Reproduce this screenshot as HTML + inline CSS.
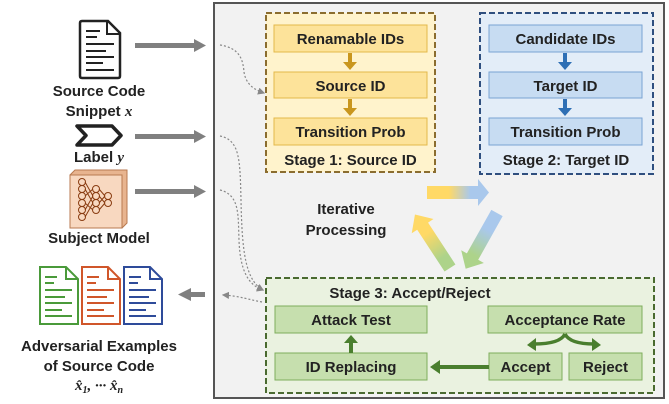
<!DOCTYPE html>
<html><head><meta charset="utf-8"><style>
html,body{margin:0;padding:0;background:#fff;}
svg{display:block;}
text{font-family:"Liberation Sans",sans-serif;font-weight:bold;fill:#222;}
.m{font-family:"Liberation Serif",serif;font-style:italic;}
</style></head><body>
<svg width="669" height="404" viewBox="0 0 669 404" xmlns="http://www.w3.org/2000/svg">
<defs>
<linearGradient id="g1" x1="0" y1="0" x2="1" y2="0"><stop offset="0.35" stop-color="#ffd966"/><stop offset="0.7" stop-color="#a9c8ec"/></linearGradient>
<linearGradient id="g2" x1="0" y1="0" x2="1" y2="0"><stop offset="0.3" stop-color="#a9c8ec"/><stop offset="0.75" stop-color="#add38a"/></linearGradient>
<linearGradient id="g3" x1="0" y1="0" x2="1" y2="0"><stop offset="0.2" stop-color="#add38a"/><stop offset="0.65" stop-color="#ffd966"/></linearGradient>
<marker id="ad" markerWidth="6" markerHeight="6" refX="5" refY="3" orient="auto"><path d="M0,0 L6,3 L0,6z" fill="#888"/></marker>
</defs>
<rect x="214" y="3" width="450" height="395" fill="#f2f2f2" stroke="#555" stroke-width="2"/>

<rect x="266" y="13" width="169" height="159" fill="#fff3cc" stroke="#8b6d2f" stroke-width="2" stroke-dasharray="6,3"/>
<g fill="#fde39a" stroke="#e3b84a" stroke-width="1">
<rect x="274" y="25" width="153" height="27"/><rect x="274" y="72" width="153" height="26"/><rect x="274" y="118" width="153" height="27"/></g>
<g fill="#c9961e"><rect x="348" y="53" width="4" height="10"/><path d="M343,62 L357,62 L350,70z"/><rect x="348" y="99" width="4" height="10"/><path d="M343,108 L357,108 L350,116z"/></g>
<text x="350.5" y="44" font-size="15" text-anchor="middle">Renamable IDs</text>
<text x="350.5" y="91" font-size="15" text-anchor="middle">Source ID</text>
<text x="350.5" y="137" font-size="15" text-anchor="middle">Transition Prob</text>
<text x="350.5" y="165" font-size="15" text-anchor="middle">Stage 1: Source ID</text>

<rect x="480" y="13" width="173" height="161" fill="#e3edf8" stroke="#2f4f7f" stroke-width="2" stroke-dasharray="6,3"/>
<g fill="#c7dcf2" stroke="#7aa4d3" stroke-width="1">
<rect x="489" y="25" width="153" height="27"/><rect x="489" y="72" width="153" height="26"/><rect x="489" y="118" width="153" height="27"/></g>
<g fill="#2e6fb5"><rect x="563" y="53" width="4" height="10"/><path d="M558,62 L572,62 L565,70z"/><rect x="563" y="99" width="4" height="10"/><path d="M558,108 L572,108 L565,116z"/></g>
<text x="565.5" y="44" font-size="15" text-anchor="middle">Candidate IDs</text>
<text x="565.5" y="91" font-size="15" text-anchor="middle">Target ID</text>
<text x="565.5" y="137" font-size="15" text-anchor="middle">Transition Prob</text>
<text x="566" y="165" font-size="15" text-anchor="middle">Stage 2: Target ID</text>

<text x="346" y="214" font-size="15" text-anchor="middle">Iterative</text>
<text x="346" y="235" font-size="15" text-anchor="middle">Processing</text>
<path d="M427,186 L478,186 L478,179 L489,192.5 L478,206 L478,199 L427,199z" fill="url(#g1)"/>
<g transform="translate(497,213) rotate(119.3)"><path d="M0,-6.5 L50,-6.5 L50,-13 L64,0 L50,13 L50,6.5 L0,6.5z" fill="url(#g2)"/></g>
<g transform="translate(450,268) rotate(-123.2)"><path d="M0,-6.5 L50,-6.5 L50,-13 L64,0 L50,13 L50,6.5 L0,6.5z" fill="url(#g3)"/></g>

<rect x="266" y="278" width="388" height="115" fill="#eaf2e0" stroke="#4a6a30" stroke-width="2" stroke-dasharray="6,3"/>
<text x="410" y="298" font-size="15" text-anchor="middle">Stage 3: Accept/Reject</text>
<g fill="#c6dfae" stroke="#7fae5c" stroke-width="1">
<rect x="275" y="306" width="152" height="27"/><rect x="488" y="306" width="154" height="27"/>
<rect x="275" y="353" width="152" height="27"/><rect x="489" y="353" width="73" height="27"/><rect x="569" y="353" width="73" height="27"/></g>
<text x="351" y="325" font-size="15" text-anchor="middle">Attack Test</text>
<text x="565" y="325" font-size="15" text-anchor="middle">Acceptance Rate</text>
<text x="351" y="372" font-size="15" text-anchor="middle">ID Replacing</text>
<text x="525.5" y="372" font-size="15" text-anchor="middle">Accept</text>
<text x="605.5" y="372" font-size="15" text-anchor="middle">Reject</text>
<g fill="#4a7f2e" stroke="none">
<rect x="349" y="342" width="4" height="11"/><path d="M344,343 L358,343 L351,335z"/>
<rect x="438" y="365" width="51" height="4"/><path d="M440,360 L440,374 L430,367z"/>
</g>
<path d="M565,334 Q560,344 534,344 M565,334 Q570,344 594,344" fill="none" stroke="#4a7f2e" stroke-width="3.5"/>
<path d="M536,338 L536,351 L527,345z" fill="#4a7f2e"/>
<path d="M592,338 L592,351 L601,345z" fill="#4a7f2e"/>

<g fill="none" stroke="#888" stroke-width="1.2" stroke-dasharray="2,2" marker-end="url(#ad)">
<path d="M220,45 C240,48 243,60 244,72 C246,85 255,90 264,93"/>
<path d="M220,136 C240,140 240,160 241,200 C242,250 245,280 263,290"/>
<path d="M220,190 C240,195 238,215 239,240 C240,270 248,285 263,290"/>
<path d="M262,302 C250,300 240,296 223,295"/>
</g>

<g fill="#808080">
<rect x="135" y="43" width="60" height="5"/><path d="M194,39 L206,45.5 L194,52z"/>
<rect x="135" y="134" width="60" height="5"/><path d="M194,130 L206,136.5 L194,143z"/>
<rect x="135" y="189" width="60" height="5"/><path d="M194,185 L206,191.5 L194,198z"/>
<rect x="190" y="292" width="15" height="5"/><path d="M191,288 L178,294.5 L191,301z"/>
</g>

<path d="M82,21 L108,21 L120,33 L120,76 Q120,78 118,78 L82,78 Q80,78 80,76 L80,23 Q80,21 82,21z" fill="#fff" stroke="#222" stroke-width="2.5"/>
<path d="M107,21 L107,34 L120,34" fill="none" stroke="#222" stroke-width="2"/>
<g stroke="#222" stroke-width="2"><line x1="86" y1="31" x2="100" y2="31"/><line x1="86" y1="37" x2="97" y2="37"/><line x1="86" y1="44" x2="114" y2="44"/><line x1="86" y1="51" x2="106" y2="51"/><line x1="86" y1="57" x2="114" y2="57"/><line x1="86" y1="63" x2="103" y2="63"/><line x1="86" y1="70" x2="114" y2="70"/></g>
<text x="99" y="96" font-size="15" text-anchor="middle">Source Code</text>
<text x="99" y="116" font-size="15" text-anchor="middle">Snippet <tspan class="m">x</tspan></text>

<path d="M77,126 L112,126 L121,135.5 L112,145 L77,145 L86,135.5z" fill="#fff" stroke="#222" stroke-width="3.5" stroke-linejoin="round"/>
<text x="99" y="162" font-size="15" text-anchor="middle">Label <tspan class="m">y</tspan></text>

<path d="M70,175 L75,170 L127,170 L127,223 L122,228z" fill="#e8b48f" stroke="#b87a50"/>
<rect x="70" y="175" width="52" height="53" fill="#f8d8c0" stroke="#b87a50"/>
<g fill="none" stroke="#8a3d12" stroke-width="1">
<circle cx="82" cy="182" r="3.5"/><circle cx="82" cy="189" r="3.5"/><circle cx="82" cy="196" r="3.5"/><circle cx="82" cy="203" r="3.5"/><circle cx="82" cy="210" r="3.5"/><circle cx="82" cy="217" r="3.5"/>
<circle cx="96" cy="189" r="3.5"/><circle cx="96" cy="196" r="3.5"/><circle cx="96" cy="203" r="3.5"/><circle cx="96" cy="210" r="3.5"/>
<circle cx="108" cy="196" r="3.5"/><circle cx="108" cy="203" r="3.5"/>
<path d="M85,182 L93,196 M85,189 L93,203 M85,196 L93,189 M85,203 L93,210 M85,210 L93,196 M85,217 L93,203 M99,189 L105,196 M99,210 L105,203 M99,196 L105,203 M99,203 L105,196"/>
</g>
<text x="99" y="243" font-size="15" text-anchor="middle">Subject Model</text>

<g fill="#fff" stroke-width="2">
<g stroke="#4a9a3a"><path d="M40,267 L66,267 L78,279 L78,324 L40,324z"/><path d="M66,267 L66,279 L78,279" fill="none"/>
<path d="M45,277 L57,277 M45,283 L54,283 M45,290 L72,290 M45,297 L65,297 M45,303 L72,303 M45,310 L62,310 M45,316 L72,316" fill="none"/></g>
<g stroke="#d0562a"><path d="M82,267 L108,267 L120,279 L120,324 L82,324z"/><path d="M108,267 L108,279 L120,279" fill="none"/>
<path d="M87,277 L99,277 M87,283 L96,283 M87,290 L114,290 M87,297 L107,297 M87,303 L114,303 M87,310 L104,310 M87,316 L114,316" fill="none"/></g>
<g stroke="#2e4b9a"><path d="M124,267 L150,267 L162,279 L162,324 L124,324z"/><path d="M150,267 L150,279 L162,279" fill="none"/>
<path d="M129,277 L141,277 M129,283 L138,283 M129,290 L156,290 M129,297 L149,297 M129,303 L156,303 M129,310 L146,310 M129,316 L156,316" fill="none"/></g>
</g>
<text x="99" y="351" font-size="15" text-anchor="middle">Adversarial Examples</text>
<text x="99" y="371" font-size="15" text-anchor="middle">of Source Code</text>
<text x="99" y="390" font-size="15" text-anchor="middle" class="m">x̂<tspan font-size="10" dy="3">1</tspan><tspan dy="-3">, ··· x̂</tspan><tspan font-size="10" dy="3">n</tspan></text>
</svg>
</body></html>
